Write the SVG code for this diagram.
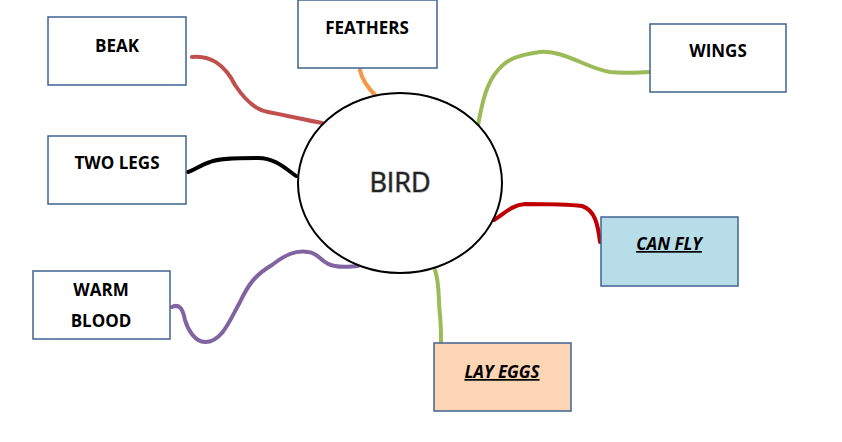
<svg xmlns="http://www.w3.org/2000/svg" width="842" height="442" viewBox="0 0 842 442">
<style>
.b{stroke:#3f6391;stroke-width:1.5}
.t{font-family:"Open Sans","Liberation Sans",sans-serif;font-weight:bold;font-size:17px;fill:#000;text-anchor:middle}
.i{font-style:italic;text-decoration:underline}
.c{fill:none;stroke-width:4;stroke-linecap:round;stroke-linejoin:round}
</style>
<rect width="842" height="442" fill="#fff"/>
<g id="connectors">
<path class="c" stroke="#c0504d" d="M192,57 C210,55 225,65 235,85 C245,100 255,110 268,112 C285,115 305,120 322,123"/>
<path class="c" stroke="#f79646" d="M360,70 C362,80 368,88 376,96"/>
<path class="c" stroke="#9bbb59" d="M478,125 C482,105 485,85 498,70 C508,58 520,55 540,52 C565,50 585,68 610,72 C625,74 640,72 650,72"/>
<path class="c" stroke="#000" d="M188,172 C195,170 200,165 210,162 C220,158 240,158 258,158 C275,158 285,168 296,176"/>
<path class="c" stroke="#c00000" d="M494,220 C505,213 512,205 525,204 C545,204 565,204 582,206 C595,210 598,225 600,242"/>
<path class="c" stroke="#9bbb59" d="M435,270 C440,285 438,300 440,315 C441,325 441,335 441,343"/>
<path class="c" stroke="#8064a2" d="M172,307 C180,303 183,310 185,320 C188,330 195,342 205,342 C222,342 230,320 240,302 C248,285 255,275 272,265 C285,255 295,250 308,252 C320,253 322,265 335,266 C345,268 352,266 358,266"/>
</g>
<g id="bird"><ellipse cx="400" cy="183" rx="102" ry="90" fill="#fff" stroke="#000" stroke-width="2"/>
<text x="400" y="192" font-family="Open Sans,Liberation Sans,sans-serif" font-size="27" text-anchor="middle" fill="#222" stroke="#999" stroke-width="1.2" paint-order="stroke">BIRD</text></g>
<g id="beak"><rect class="b" x="48" y="17" width="138" height="68" fill="#fff"/><text class="t" x="117" y="52">BEAK</text></g>
<g id="feathers"><rect class="b" x="298" y="0" width="139" height="68" fill="#fff"/><text class="t" x="367" y="34">FEATHERS</text></g>
<g id="wings"><rect class="b" x="650" y="24" width="136" height="68" fill="#fff"/><text class="t" x="718" y="57">WINGS</text></g>
<g id="twolegs"><rect class="b" x="48" y="136" width="138" height="68" fill="#fff"/><text class="t" x="117" y="169">TWO LEGS</text></g>
<g id="canfly"><rect class="b" x="601" y="217" width="137" height="69" fill="#b7dde8"/><text class="t i" x="669" y="250">CAN FLY</text></g>
<g id="warmblood"><rect class="b" x="33" y="271" width="137" height="68" fill="#fff"/><text class="t" x="101" y="296">WARM</text><text class="t" x="101" y="327">BLOOD</text></g>
<g id="layeggs"><rect class="b" x="434" y="343" width="137" height="68" fill="#fcd5b4"/><text class="t i" x="502" y="378">LAY EGGS</text></g>
</svg>
